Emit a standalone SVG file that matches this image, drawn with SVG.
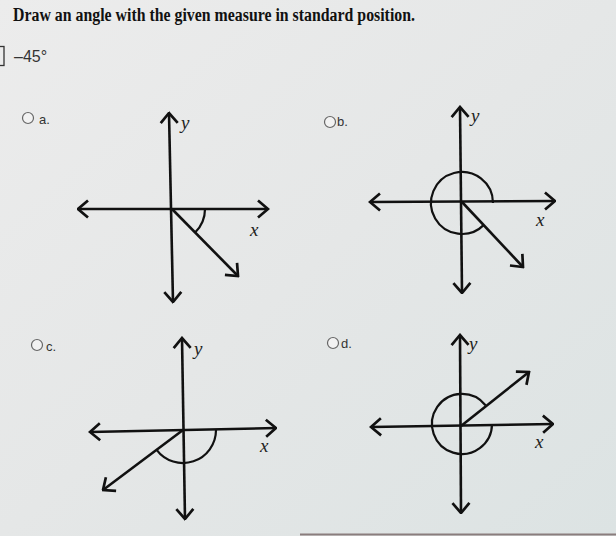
<svg xmlns="http://www.w3.org/2000/svg" width="616" height="536" viewBox="0 0 616 536">
  <defs>
    <linearGradient id="bg" x1="0" y1="0" x2="1" y2="1">
      <stop offset="0" stop-color="#ececec"/>
      <stop offset="0.5" stop-color="#e5e7e7"/>
      <stop offset="1" stop-color="#dce3e3"/>
    </linearGradient>
    <marker id="arr" viewBox="0 0 13 20" refX="11.5" refY="10" markerWidth="13" markerHeight="20" markerUnits="userSpaceOnUse" orient="auto-start-reverse">
      <path d="M1.5,1.5 L11.5,10 L1.5,18.5" fill="none" stroke="#111" stroke-width="2.7" stroke-linejoin="miter"/>
    </marker>
  </defs>
  <style>
    .ax { stroke: #111; stroke-width: 2.6; fill: none; marker-start: url(#arr); marker-end: url(#arr); }
    .ray { stroke: #111; stroke-width: 2.6; fill: none; marker-end: url(#arr); }
    .arc { stroke: #111; stroke-width: 2.2; fill: none; }
    .lab { font-family: "Liberation Serif", "Times New Roman", serif; font-style: italic; font-size: 19px; fill: #222; }
    .opt { font-family: "Liberation Sans", Arial, sans-serif; font-size: 13px; fill: #333; }
    .rad { fill: #f2f2f2; stroke: #666; stroke-width: 1.2; }
  </style>
  <rect x="0" y="0" width="616" height="536" fill="url(#bg)"/>
  <line x1="300" y1="534.5" x2="616" y2="534.5" stroke="#8a7d7d" stroke-width="2"/>

  <g id="header">
    <text x="13" y="21" font-family="Liberation Serif, 'Times New Roman', serif" font-weight="bold" font-size="18" fill="#111" textLength="402" lengthAdjust="spacingAndGlyphs">Draw an angle with the given measure in standard position.</text>
    <rect x="-6" y="46.5" width="10" height="19" fill="none" stroke="#333" stroke-width="1.3"/>
    <text x="14" y="62" font-family="Liberation Sans, Arial, sans-serif" font-size="16" fill="#333">–45°</text>
  </g>

  <g id="option-a">
    <circle class="rad" cx="28" cy="118" r="5.5"/>
    <text class="opt" x="39" y="124">a.</text>
    <text class="lab" x="181" y="129">y</text>
    <text class="lab" x="250" y="236">x</text>
  </g>
  <g id="option-b">
    <circle class="rad" cx="330" cy="122" r="5.5"/>
    <text class="opt" x="337" y="126">b.</text>
    <text class="lab" x="471" y="122">y</text>
    <text class="lab" x="536" y="226">x</text>
  </g>
  <g id="option-c">
    <circle class="rad" cx="37" cy="345" r="5.5"/>
    <text class="opt" x="46" y="351">c.</text>
    <text class="lab" x="194" y="355">y</text>
    <text class="lab" x="260" y="452">x</text>
  </g>
  <g id="option-d">
    <circle class="rad" cx="333" cy="343" r="5.5"/>
    <text class="opt" x="341" y="348">d.</text>
    <text class="lab" x="469" y="350">y</text>
    <text class="lab" x="535" y="448">x</text>
  </g>

  <g id="connectors">
    <!-- a -->
    <line class="ax" x1="78" y1="209" x2="268" y2="209"/>
    <line class="ax" x1="169" y1="113" x2="173" y2="302"/>
    <line class="ray" x1="172" y1="209" x2="238" y2="276"/>
    <path class="arc" d="M205,209 A33,33 0 0 1 195.3,232.3"/>
    <!-- b -->
    <line class="ax" x1="370" y1="202" x2="555" y2="201"/>
    <line class="ax" x1="460" y1="107" x2="462" y2="293"/>
    <line class="ray" x1="462" y1="202" x2="523" y2="267"/>
    <path class="arc" d="M493,203 A31,31 0 1 0 483.9,224.9"/>
    <!-- c -->
    <line class="ax" x1="90" y1="432" x2="276" y2="428"/>
    <line class="ax" x1="182" y1="338" x2="185" y2="519"/>
    <line class="ray" x1="183" y1="430" x2="103" y2="490"/>
    <path class="arc" d="M216,430 A33,33 0 0 1 156.6,449.8"/>
    <!-- d -->
    <line class="ax" x1="371" y1="427" x2="553" y2="424"/>
    <line class="ax" x1="460" y1="335" x2="461" y2="513"/>
    <line class="ray" x1="461" y1="426" x2="529" y2="372"/>
    <path class="arc" d="M492,424 A30,30 0 1 1 485.5,405.3"/>
  </g>
</svg>
